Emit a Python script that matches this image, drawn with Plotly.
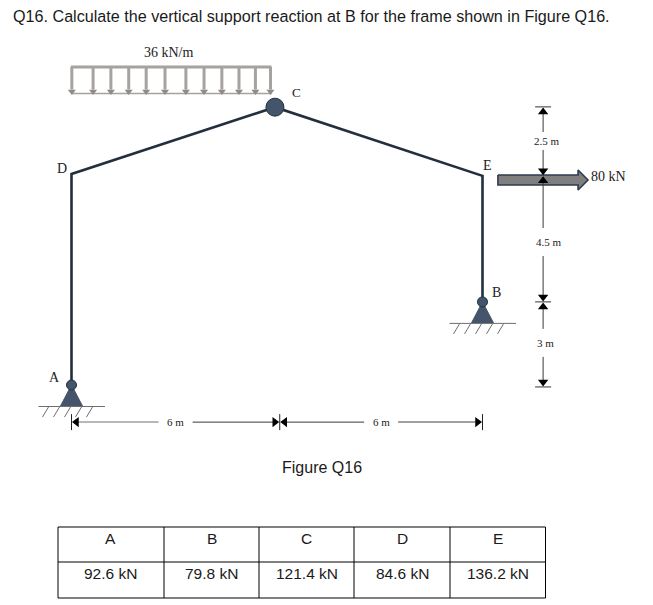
import plotly.graph_objects as go

# drawing scale, the frame is drawn in metres (x right from A, y up from A)
W, H = 653, 605
PX_PER_M_X = 34.25
PX_PER_M_Y = 27.7
A_PX = (71.5, 385)

title_text = "Q16. Calculate the vertical support reaction at B for the frame shown in Figure Q16."
caption_text = "Figure Q16"

# frame A-D-C-E-B
frame_x = [0, 0, 5.94, 12, 12]
frame_y = [0, 7.62, 10.03, 7.55, 3.0]

# supports and hinges
support_x = [0, 12]
support_y = [0, 3.0]
hinge_c = (5.94, 10.03)

# distributed load
load_label = "36 kN/m"
load_arrow_x = [0.01, 0.63, 1.15, 1.67, 2.18, 2.73, 3.34, 3.87, 4.39, 4.89, 5.37, 5.81]
load_top = 11.48
load_bottom = 10.52

# point load at E
point_load_label = "80 kN"
point_load_x = [12.45, 14.79, 14.79, 15.08, 14.79, 14.79, 12.45]
point_load_y = [7.58, 7.58, 7.76, 7.4, 7.04, 7.22, 7.22]

# dimensions
dim_v_x = 13.77
dim_v_stations = [10.04, 7.55, 3.0, -0.07]
dim_v_labels = ["2.5 m", "4.5 m", "3 m"]
dim_v_label_y = [8.81, 5.16, 1.52]
dim_v_label_dx = [4, 6, 2]
dim_v_gap = [9, 14, 14]
dim_h_y = -1.34
dim_h_stations = [0, 6.08, 12]
dim_h_labels = ["6 m", "6 m"]

# answer table
table_header = ["A", "B", "C", "D", "E"]
table_values = ["92.6 kN", "79.8 kN", "121.4 kN", "84.6 kN", "136.2 kN"]
table_col_edges = [58, 164, 259, 354, 450, 545.5]
table_row_edges = [527, 562, 598]

FRAME = "#222f3e"
FILL = "#44546a"
GREY = "#a6a2a0"
DIM = "#3a3a3a"
SERIF = "Liberation Serif"
SANS = "Liberation Sans"


def dx(px):
    return px / PX_PER_M_X


def dy(px):
    return px / PX_PER_M_Y


def X(px):
    return (px - A_PX[0]) / PX_PER_M_X


def Y(py):
    return (A_PX[1] - py) / PX_PER_M_Y


fig = go.Figure()


def line(xs, ys, color, width):
    fig.add_trace(go.Scatter(x=xs, y=ys, mode="lines", line=dict(color=color, width=width),
                             hoverinfo="skip", showlegend=False))


def heads(xs, ys, symbol, size=9, color="black"):
    fig.add_trace(go.Scatter(x=xs, y=ys, mode="markers", hoverinfo="skip", showlegend=False,
                             marker=dict(symbol=symbol, size=size, color=color, line=dict(width=0))))


def label(x, y, text, size=14, family=SERIF, color="#222222"):
    fig.add_annotation(x=x, y=y, text=text, showarrow=False, xanchor="center", yanchor="middle",
                       font=dict(family=family, size=size, color=color))


def page_text(px, py, text, size):
    fig.add_annotation(xref="paper", yref="paper", x=px / W, y=1 - py / H, text=text, showarrow=False,
                       xanchor="center", yanchor="middle", font=dict(family=SANS, size=size, color="#1a1a1a"))


# load
for x in load_arrow_x:
    line([x, x], [load_top, load_bottom + dy(4)], GREY, 3)
line([load_arrow_x[0] - dx(1), load_arrow_x[-1] + dx(1)], [load_top, load_top], GREY, 3)
line([load_arrow_x[0], load_arrow_x[-1] + dx(1)], [load_bottom, load_bottom], GREY, 1.5)
heads(load_arrow_x, [load_bottom + dy(2)] * len(load_arrow_x), "triangle-down", 7, "#8f8b89")

# supports, triangle and ground with hatching
for sx, sy in zip(support_x, support_y):
    fig.add_trace(go.Scatter(x=[sx - dx(11), sx, sx + dx(11), sx - dx(11)],
                             y=[sy - dy(21), sy, sy - dy(21), sy - dy(21)],
                             mode="lines", fill="toself", fillcolor=FILL, line=dict(color=FILL, width=1),
                             hoverinfo="skip", showlegend=False))
    line([sx - dx(33), sx + dx(33.5)], [sy - dy(21.5), sy - dy(21.5)], "#6e6e6e", 1)
    for off in [-29, -18, -7, 4, 15]:
        line([sx + dx(off), sx + dx(off + 6)], [sy - dy(32), sy - dy(22)], "#6e6e6e", 1)

# frame
line(frame_x, frame_y, FRAME, 2.6)
heads(support_x, support_y, "circle", 10, FILL)
fig.data[-1].marker.line = dict(color=FRAME, width=1)
heads([hinge_c[0]], [hinge_c[1]], "circle", 18, FILL)
fig.data[-1].marker.line = dict(color=FRAME, width=1)

# point load
fig.add_trace(go.Scatter(x=point_load_x + point_load_x[:1], y=point_load_y + point_load_y[:1],
                         mode="lines", fill="toself", fillcolor="#7f7f7f",
                         line=dict(color="#2f3b4d", width=1.6), hoverinfo="skip", showlegend=False))

# vertical dimensions
for s in [dim_v_stations[0], dim_v_stations[2], dim_v_stations[3]]:
    line([dim_v_x - dx(8), dim_v_x + dx(8)], [s, s], "#333333", 1)
for i, text in enumerate(dim_v_labels):
    top, bot = dim_v_stations[i], dim_v_stations[i + 1]
    mid = dim_v_label_y[i]
    line([dim_v_x, dim_v_x], [top - dy(5), mid + dy(dim_v_gap[i])], DIM, 1)
    line([dim_v_x, dim_v_x], [mid - dy(dim_v_gap[i]), bot + dy(5)], DIM, 1)
    heads([dim_v_x], [top - dy(5)], "triangle-up", 9)
    heads([dim_v_x], [bot + dy(5)], "triangle-down", 9)
    label(dim_v_x + dx(dim_v_label_dx[i]), mid, text, 11)

# horizontal dimension
for s in dim_h_stations:
    line([s, s], [dim_h_y + dy(8), dim_h_y - dy(8)], "#222222", 1)
for (lft, rgt), text, col in zip(zip(dim_h_stations[:-1], dim_h_stations[1:]), dim_h_labels, ["#a0a0a0", DIM]):
    mid = (lft + rgt) / 2
    line([lft + dx(5), mid - dx(17)], [dim_h_y, dim_h_y], col, 1.5 if col != DIM else 1)
    line([mid + dx(17), rgt - dx(5)], [dim_h_y, dim_h_y], DIM if col != DIM else "#a0a0a0", 1 if col != DIM else 2)
    heads([lft + dx(5)], [dim_h_y], "triangle-left", 9)
    heads([rgt - dx(5)], [dim_h_y], "triangle-right", 9)
    label(mid, dim_h_y, text, 11)

# joint labels
label(X(62), Y(168), "D", 14)
label(X(296), Y(92), "C", 13)
label(X(487), Y(165), "E", 14)
label(X(496), Y(292), "B", 14)
label(X(54), Y(377), "A", 14)
label(X(169), Y(52), load_label, 14)
label(X(608), Y(176), point_load_label, 14)

# question and caption
page_text(311.5, 16, title_text, 16.15)
page_text(322, 467, caption_text, 16)

# answer table, grid then text
for px in table_col_edges:
    fig.add_shape(type="line", xref="paper", yref="paper", x0=px / W, x1=px / W,
                  y0=1 - table_row_edges[0] / H, y1=1 - table_row_edges[-1] / H, line=dict(color="black", width=1))
for py in table_row_edges:
    fig.add_shape(type="line", xref="paper", yref="paper", x0=table_col_edges[0] / W, x1=table_col_edges[-1] / W,
                  y0=1 - py / H, y1=1 - py / H, line=dict(color="black", width=1))
for i, (head, val) in enumerate(zip(table_header, table_values)):
    centre = (table_col_edges[i] + table_col_edges[i + 1]) / 2
    page_text(centre, table_row_edges[0] + 11, head, 15.5)
    page_text(centre, table_row_edges[1] + 11, val, 15.5)

fig.update_xaxes(range=[X(0), X(W)], visible=False, fixedrange=True)
fig.update_yaxes(range=[Y(H), Y(0)], visible=False, fixedrange=True)
fig.update_layout(width=W, height=H, margin=dict(l=0, r=0, t=0, b=0), plot_bgcolor="white",
                  paper_bgcolor="white", showlegend=False, hovermode=False)

# page margin off so the figure fills the window
fig.write_html("out.html", config=dict(displayModeBar=False),
               post_script="document.body.style.margin='0';document.documentElement.style.overflow='hidden';")
